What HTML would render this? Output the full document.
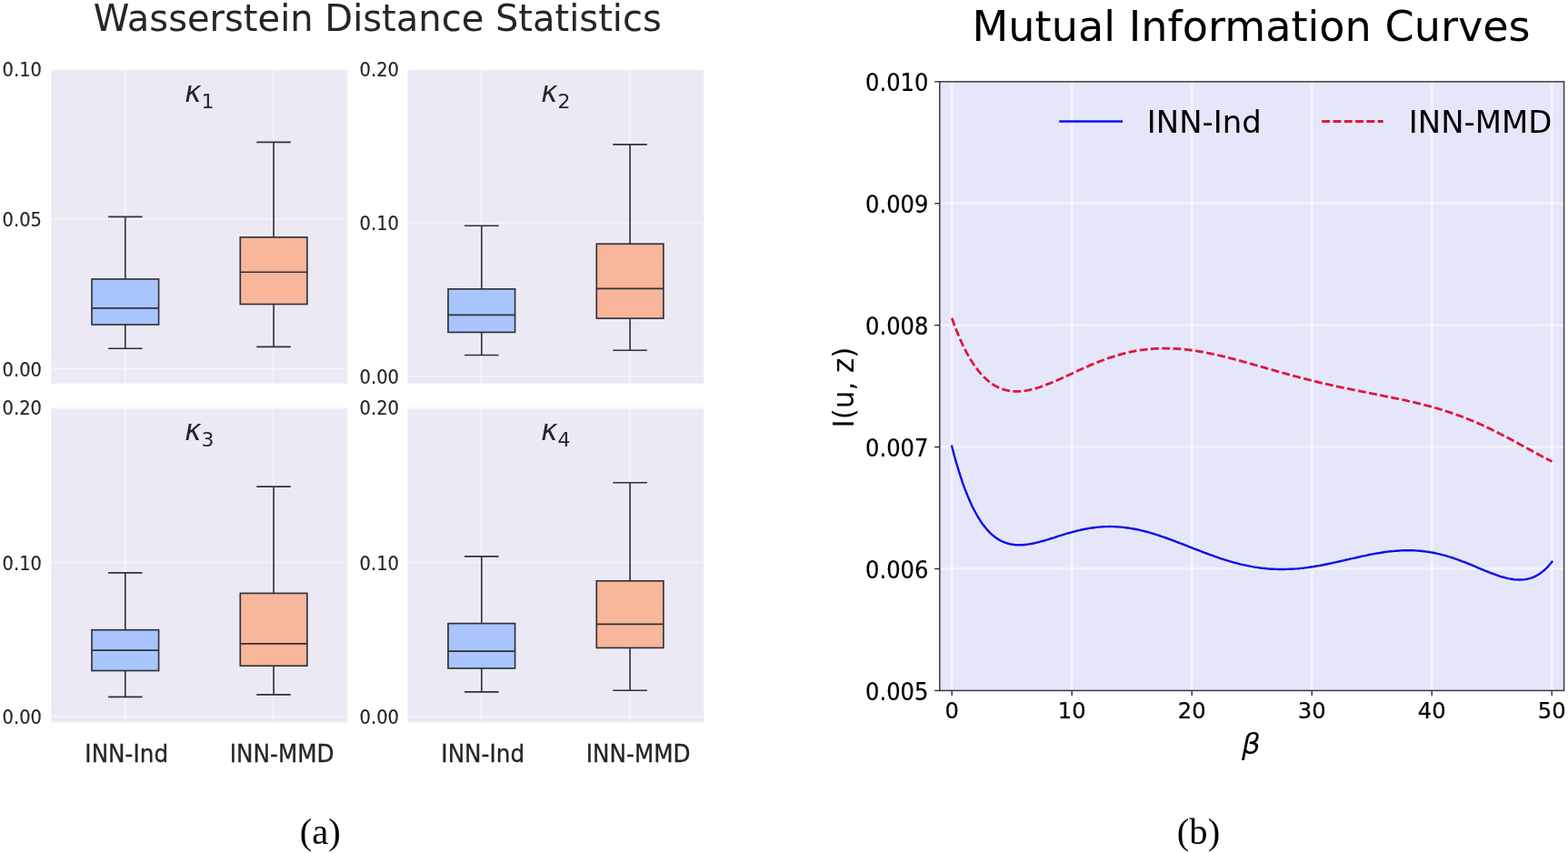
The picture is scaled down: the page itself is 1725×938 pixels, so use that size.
<!DOCTYPE html>
<html lang="en">
<head>
<meta charset="utf-8">
<title>Wasserstein Distance Statistics / Mutual Information Curves</title>
<style>
html, body { margin: 0; padding: 0; background: #fff; }
body { width: 1725px; height: 938px; overflow: hidden; }
svg { display: block; filter: blur(0.4px); font-family: "DejaVu Sans", "Liberation Sans", sans-serif; }
</style>
</head>
<body>
<svg width="1725" height="938" viewBox="0 0 1725 938">
<rect width="1725" height="938" fill="#fff"/>
<text x="415.3" y="33.5" font-size="40" text-anchor="middle" fill="#262626">Wasserstein Distance Statistics</text>
<rect x="56.3" y="76.3" width="326" height="345.5" fill="#ebeaf4"/>
<line x1="137.8" y1="76.3" x2="137.8" y2="421.8" stroke="#fff" stroke-width="2.2" opacity="0.42"/>
<line x1="300.8" y1="76.3" x2="300.8" y2="421.8" stroke="#fff" stroke-width="2.2" opacity="0.42"/>
<line x1="56.3" y1="76.9" x2="382.3" y2="76.9" stroke="#fff" stroke-width="2.2" opacity="0.42"/>
<line x1="56.3" y1="240.9" x2="382.3" y2="240.9" stroke="#fff" stroke-width="2.2" opacity="0.42"/>
<line x1="56.3" y1="405.5" x2="382.3" y2="405.5" stroke="#fff" stroke-width="2.2" opacity="0.42"/>
<text transform="translate(46 84) scale(0.975 1.060)" font-size="20" text-anchor="end" fill="#262626" stroke="#262626" stroke-width="0.15">0.10</text>
<text transform="translate(46 249) scale(0.975 1.060)" font-size="20" text-anchor="end" fill="#262626" stroke="#262626" stroke-width="0.15">0.05</text>
<text transform="translate(46 414) scale(0.975 1.060)" font-size="20" text-anchor="end" fill="#262626" stroke="#262626" stroke-width="0.15">0.00</text>
<text x="203.3" y="112.3" font-size="31" fill="#262626"><tspan font-style="italic">κ</tspan><tspan font-size="22" dy="6.8">1</tspan></text>
<g stroke="#30303a" stroke-width="1.65" fill="none">
<line x1="137.8" y1="238.3" x2="137.8" y2="306.9"/>
<line x1="137.8" y1="357" x2="137.8" y2="383.2"/>
<line x1="119.05" y1="238.3" x2="156.55" y2="238.3"/>
<line x1="119.05" y1="383.2" x2="156.55" y2="383.2"/>
<rect x="101" y="306.9" width="73.6" height="50.1" fill="#a8c5fd"/>
<line x1="101" y1="338.9" x2="174.6" y2="338.9"/>
</g>
<g stroke="#30303a" stroke-width="1.65" fill="none">
<line x1="301.1" y1="156.3" x2="301.1" y2="260.9"/>
<line x1="301.1" y1="334.5" x2="301.1" y2="381.3"/>
<line x1="282.35" y1="156.3" x2="319.85" y2="156.3"/>
<line x1="282.35" y1="381.3" x2="319.85" y2="381.3"/>
<rect x="264.3" y="260.9" width="73.6" height="73.6" fill="#f8b69a"/>
<line x1="264.3" y1="299.2" x2="337.9" y2="299.2"/>
</g>
<rect x="448.3" y="76.3" width="326" height="345.5" fill="#ebeaf4"/>
<line x1="529.8" y1="76.3" x2="529.8" y2="421.8" stroke="#fff" stroke-width="2.2" opacity="0.42"/>
<line x1="692.8" y1="76.3" x2="692.8" y2="421.8" stroke="#fff" stroke-width="2.2" opacity="0.42"/>
<line x1="448.3" y1="76.9" x2="774.3" y2="76.9" stroke="#fff" stroke-width="2.2" opacity="0.42"/>
<line x1="448.3" y1="245.2" x2="774.3" y2="245.2" stroke="#fff" stroke-width="2.2" opacity="0.42"/>
<line x1="448.3" y1="414.2" x2="774.3" y2="414.2" stroke="#fff" stroke-width="2.2" opacity="0.42"/>
<text transform="translate(439 84) scale(0.975 1.060)" font-size="20" text-anchor="end" fill="#262626" stroke="#262626" stroke-width="0.15">0.20</text>
<text transform="translate(439 253) scale(0.975 1.060)" font-size="20" text-anchor="end" fill="#262626" stroke="#262626" stroke-width="0.15">0.10</text>
<text transform="translate(439 422) scale(0.975 1.060)" font-size="20" text-anchor="end" fill="#262626" stroke="#262626" stroke-width="0.15">0.00</text>
<text x="595.3" y="112.3" font-size="31" fill="#262626"><tspan font-style="italic">κ</tspan><tspan font-size="22" dy="6.8">2</tspan></text>
<g stroke="#30303a" stroke-width="1.65" fill="none">
<line x1="529.8" y1="248.2" x2="529.8" y2="317.8"/>
<line x1="529.8" y1="365.4" x2="529.8" y2="390.5"/>
<line x1="511.05" y1="248.2" x2="548.55" y2="248.2"/>
<line x1="511.05" y1="390.5" x2="548.55" y2="390.5"/>
<rect x="493" y="317.8" width="73.6" height="47.6" fill="#a8c5fd"/>
<line x1="493" y1="346.4" x2="566.6" y2="346.4"/>
</g>
<g stroke="#30303a" stroke-width="1.65" fill="none">
<line x1="693.1" y1="158.8" x2="693.1" y2="268.2"/>
<line x1="693.1" y1="350.1" x2="693.1" y2="385.2"/>
<line x1="674.35" y1="158.8" x2="711.85" y2="158.8"/>
<line x1="674.35" y1="385.2" x2="711.85" y2="385.2"/>
<rect x="656.3" y="268.2" width="73.6" height="81.9" fill="#f8b69a"/>
<line x1="656.3" y1="317.3" x2="729.9" y2="317.3"/>
</g>
<rect x="56.3" y="448.2" width="326" height="346.1" fill="#ebeaf4"/>
<line x1="137.8" y1="448.2" x2="137.8" y2="794.3" stroke="#fff" stroke-width="2.2" opacity="0.42"/>
<line x1="300.8" y1="448.2" x2="300.8" y2="794.3" stroke="#fff" stroke-width="2.2" opacity="0.42"/>
<line x1="56.3" y1="448.8" x2="382.3" y2="448.8" stroke="#fff" stroke-width="2.2" opacity="0.42"/>
<line x1="56.3" y1="618.5" x2="382.3" y2="618.5" stroke="#fff" stroke-width="2.2" opacity="0.42"/>
<line x1="56.3" y1="788" x2="382.3" y2="788" stroke="#fff" stroke-width="2.2" opacity="0.42"/>
<text transform="translate(46 456) scale(0.975 1.060)" font-size="20" text-anchor="end" fill="#262626" stroke="#262626" stroke-width="0.15">0.20</text>
<text transform="translate(46 627) scale(0.975 1.060)" font-size="20" text-anchor="end" fill="#262626" stroke="#262626" stroke-width="0.15">0.10</text>
<text transform="translate(46 796) scale(0.975 1.060)" font-size="20" text-anchor="end" fill="#262626" stroke="#262626" stroke-width="0.15">0.00</text>
<text x="203.3" y="484.2" font-size="31" fill="#262626"><tspan font-style="italic">κ</tspan><tspan font-size="22" dy="6.8">3</tspan></text>
<g stroke="#30303a" stroke-width="1.65" fill="none">
<line x1="137.8" y1="629.8" x2="137.8" y2="692.7"/>
<line x1="137.8" y1="737.5" x2="137.8" y2="766.3"/>
<line x1="119.05" y1="629.8" x2="156.55" y2="629.8"/>
<line x1="119.05" y1="766.3" x2="156.55" y2="766.3"/>
<rect x="101" y="692.7" width="73.6" height="44.8" fill="#a8c5fd"/>
<line x1="101" y1="715.1" x2="174.6" y2="715.1"/>
</g>
<g stroke="#30303a" stroke-width="1.65" fill="none">
<line x1="301.1" y1="535.1" x2="301.1" y2="652.4"/>
<line x1="301.1" y1="732.2" x2="301.1" y2="763.8"/>
<line x1="282.35" y1="535.1" x2="319.85" y2="535.1"/>
<line x1="282.35" y1="763.8" x2="319.85" y2="763.8"/>
<rect x="264.3" y="652.4" width="73.6" height="79.8" fill="#f8b69a"/>
<line x1="264.3" y1="707.8" x2="337.9" y2="707.8"/>
</g>
<rect x="448.3" y="448.2" width="326" height="346.1" fill="#ebeaf4"/>
<line x1="529.8" y1="448.2" x2="529.8" y2="794.3" stroke="#fff" stroke-width="2.2" opacity="0.42"/>
<line x1="692.8" y1="448.2" x2="692.8" y2="794.3" stroke="#fff" stroke-width="2.2" opacity="0.42"/>
<line x1="448.3" y1="448.8" x2="774.3" y2="448.8" stroke="#fff" stroke-width="2.2" opacity="0.42"/>
<line x1="448.3" y1="618.5" x2="774.3" y2="618.5" stroke="#fff" stroke-width="2.2" opacity="0.42"/>
<line x1="448.3" y1="788" x2="774.3" y2="788" stroke="#fff" stroke-width="2.2" opacity="0.42"/>
<text transform="translate(439 456) scale(0.975 1.060)" font-size="20" text-anchor="end" fill="#262626" stroke="#262626" stroke-width="0.15">0.20</text>
<text transform="translate(439 627) scale(0.975 1.060)" font-size="20" text-anchor="end" fill="#262626" stroke="#262626" stroke-width="0.15">0.10</text>
<text transform="translate(439 796) scale(0.975 1.060)" font-size="20" text-anchor="end" fill="#262626" stroke="#262626" stroke-width="0.15">0.00</text>
<text x="595.3" y="484.2" font-size="31" fill="#262626"><tspan font-style="italic">κ</tspan><tspan font-size="22" dy="6.8">4</tspan></text>
<g stroke="#30303a" stroke-width="1.65" fill="none">
<line x1="529.8" y1="611.8" x2="529.8" y2="685.6"/>
<line x1="529.8" y1="734.9" x2="529.8" y2="760.9"/>
<line x1="511.05" y1="611.8" x2="548.55" y2="611.8"/>
<line x1="511.05" y1="760.9" x2="548.55" y2="760.9"/>
<rect x="493" y="685.6" width="73.6" height="49.3" fill="#a8c5fd"/>
<line x1="493" y1="716.1" x2="566.6" y2="716.1"/>
</g>
<g stroke="#30303a" stroke-width="1.65" fill="none">
<line x1="693.1" y1="530.7" x2="693.1" y2="638.8"/>
<line x1="693.1" y1="712.4" x2="693.1" y2="759.2"/>
<line x1="674.35" y1="530.7" x2="711.85" y2="530.7"/>
<line x1="674.35" y1="759.2" x2="711.85" y2="759.2"/>
<rect x="656.3" y="638.8" width="73.6" height="73.6" fill="#f8b69a"/>
<line x1="656.3" y1="686.3" x2="729.9" y2="686.3"/>
</g>
<text transform="translate(139.2 837.6) scale(1.000 1.050)" font-size="24.7" text-anchor="middle" fill="#262626" stroke="#262626" stroke-width="0.3">INN-Ind</text>
<text transform="translate(310.2 837.6) scale(1.000 1.050)" font-size="24.7" text-anchor="middle" fill="#262626" stroke="#262626" stroke-width="0.3">INN-MMD</text>
<text transform="translate(531.2 837.6) scale(1.000 1.050)" font-size="24.7" text-anchor="middle" fill="#262626" stroke="#262626" stroke-width="0.3">INN-Ind</text>
<text transform="translate(702.2 837.6) scale(1.000 1.050)" font-size="24.7" text-anchor="middle" fill="#262626" stroke="#262626" stroke-width="0.3">INN-MMD</text>
<text x="1376.6" y="44.9" font-size="46.15" text-anchor="middle" fill="#000">Mutual Information Curves</text>
<rect x="1033.8" y="89.8" width="686.8" height="669.6" fill="#e6e6fa"/>
<line x1="1047.2" y1="89.8" x2="1047.2" y2="759.4" stroke="#fff" stroke-width="3" opacity="0.5"/>
<line x1="1179.2" y1="89.8" x2="1179.2" y2="759.4" stroke="#fff" stroke-width="3" opacity="0.5"/>
<line x1="1311.2" y1="89.8" x2="1311.2" y2="759.4" stroke="#fff" stroke-width="3" opacity="0.5"/>
<line x1="1443.2" y1="89.8" x2="1443.2" y2="759.4" stroke="#fff" stroke-width="3" opacity="0.5"/>
<line x1="1575.2" y1="89.8" x2="1575.2" y2="759.4" stroke="#fff" stroke-width="3" opacity="0.5"/>
<line x1="1707.2" y1="89.8" x2="1707.2" y2="759.4" stroke="#fff" stroke-width="3" opacity="0.5"/>
<line x1="1033.8" y1="625.48" x2="1720.6" y2="625.48" stroke="#fff" stroke-width="3" opacity="0.5"/>
<line x1="1033.8" y1="491.56" x2="1720.6" y2="491.56" stroke="#fff" stroke-width="3" opacity="0.5"/>
<line x1="1033.8" y1="357.64" x2="1720.6" y2="357.64" stroke="#fff" stroke-width="3" opacity="0.5"/>
<line x1="1033.8" y1="223.72" x2="1720.6" y2="223.72" stroke="#fff" stroke-width="3" opacity="0.5"/>
<path d="M1047.2 490.7 L1047.9 493.5 L1048.6 496.2 L1049.3 498.9 L1050.0 501.5 L1050.7 504.1 L1051.4 506.6 L1052.1 509.1 L1052.9 511.5 L1053.6 513.9 L1054.3 516.2 L1055.0 518.5 L1055.7 520.7 L1056.4 522.9 L1057.1 525.1 L1057.8 527.2 L1058.5 529.3 L1059.2 531.3 L1059.9 533.3 L1060.6 535.3 L1061.3 537.2 L1062.0 539.1 L1062.8 540.9 L1063.5 542.7 L1064.2 544.4 L1064.9 546.2 L1065.6 547.8 L1066.3 549.5 L1067.0 551.1 L1067.7 552.7 L1068.4 554.2 L1069.1 555.7 L1069.8 557.2 L1070.5 558.6 L1071.2 560.0 L1071.9 561.4 L1072.7 562.7 L1073.4 564.0 L1074.1 565.3 L1074.8 566.6 L1075.5 567.8 L1076.2 569.0 L1076.9 570.1 L1077.6 571.2 L1078.3 572.3 L1079.0 573.4 L1079.7 574.4 L1080.4 575.5 L1081.1 576.4 L1081.8 577.4 L1082.6 578.3 L1083.3 579.2 L1084.0 580.1 L1084.7 581.0 L1085.4 581.8 L1086.1 582.6 L1086.8 583.4 L1087.5 584.2 L1088.2 584.9 L1088.9 585.6 L1089.6 586.3 L1090.3 587.0 L1091.0 587.6 L1091.7 588.2 L1092.5 588.8 L1093.2 589.4 L1093.9 590.0 L1094.6 590.5 L1095.3 591.0 L1096.0 591.5 L1096.7 592.0 L1097.4 592.5 L1098.1 592.9 L1098.8 593.4 L1099.5 593.8 L1100.2 594.2 L1100.9 594.6 L1101.6 594.9 L1102.4 595.3 L1103.1 595.6 L1103.8 595.9 L1104.5 596.2 L1105.2 596.5 L1105.9 596.7 L1106.6 597.0 L1107.3 597.2 L1108.0 597.4 L1108.7 597.7 L1109.4 597.8 L1110.1 598.0 L1110.8 598.2 L1111.5 598.4 L1112.3 598.5 L1113.0 598.6 L1113.7 598.7 L1114.4 598.8 L1115.1 598.9 L1115.8 599.0 L1116.5 599.1 L1117.2 599.2 L1119.7 599.3 L1122.1 599.3 L1124.6 599.2 L1127.1 599.0 L1129.5 598.8 L1132.0 598.4 L1134.5 598.0 L1137.0 597.5 L1139.4 596.9 L1141.9 596.3 L1144.4 595.7 L1146.8 595.0 L1149.3 594.3 L1151.8 593.6 L1154.2 592.8 L1156.7 592.0 L1159.2 591.3 L1161.7 590.5 L1164.1 589.7 L1166.6 588.9 L1169.1 588.2 L1171.5 587.4 L1174.0 586.7 L1176.5 586.0 L1178.9 585.3 L1181.4 584.6 L1183.9 584.0 L1186.3 583.4 L1188.8 582.8 L1191.3 582.3 L1193.8 581.8 L1196.2 581.3 L1198.7 580.9 L1201.2 580.5 L1203.6 580.2 L1206.1 579.9 L1208.6 579.6 L1211.0 579.4 L1213.5 579.2 L1216.0 579.1 L1218.4 579.1 L1220.9 579.0 L1223.4 579.1 L1225.9 579.1 L1228.3 579.3 L1230.8 579.4 L1233.3 579.6 L1235.7 579.9 L1238.2 580.2 L1240.7 580.5 L1243.1 580.9 L1245.6 581.3 L1248.1 581.7 L1250.6 582.2 L1253.0 582.7 L1255.5 583.3 L1258.0 583.9 L1260.4 584.5 L1262.9 585.2 L1265.4 585.9 L1267.8 586.6 L1270.3 587.4 L1272.8 588.2 L1275.2 589.0 L1277.7 589.8 L1280.2 590.6 L1282.7 591.5 L1285.1 592.4 L1287.6 593.3 L1290.1 594.2 L1292.5 595.1 L1295.0 596.1 L1297.5 597.0 L1299.9 598.0 L1302.4 598.9 L1304.9 599.9 L1307.3 600.9 L1309.8 601.8 L1312.3 602.8 L1314.8 603.8 L1317.2 604.7 L1319.7 605.7 L1322.2 606.6 L1324.6 607.6 L1327.1 608.5 L1329.6 609.4 L1332.0 610.3 L1334.5 611.2 L1337.0 612.1 L1339.5 612.9 L1341.9 613.8 L1344.4 614.6 L1346.9 615.4 L1349.3 616.1 L1351.8 616.9 L1354.3 617.6 L1356.7 618.3 L1359.2 619.0 L1361.7 619.6 L1364.1 620.3 L1366.6 620.9 L1369.1 621.4 L1371.6 621.9 L1374.0 622.4 L1376.5 622.9 L1379.0 623.4 L1381.4 623.8 L1383.9 624.1 L1386.4 624.5 L1388.8 624.8 L1391.3 625.0 L1393.8 625.3 L1396.2 625.5 L1398.7 625.7 L1401.2 625.8 L1403.7 625.9 L1406.1 626.0 L1408.6 626.0 L1411.1 626.0 L1413.5 626.0 L1416.0 625.9 L1418.5 625.8 L1420.9 625.7 L1423.4 625.6 L1425.9 625.4 L1428.4 625.2 L1430.8 624.9 L1433.3 624.7 L1435.8 624.4 L1438.2 624.1 L1440.7 623.7 L1443.2 623.3 L1445.6 623.0 L1448.1 622.5 L1450.6 622.1 L1453.0 621.7 L1455.5 621.2 L1458.0 620.7 L1460.5 620.2 L1462.9 619.7 L1465.4 619.2 L1467.9 618.6 L1470.3 618.1 L1472.8 617.5 L1475.3 617.0 L1477.7 616.4 L1480.2 615.8 L1482.7 615.3 L1485.1 614.7 L1487.6 614.1 L1490.1 613.6 L1492.6 613.0 L1495.0 612.5 L1497.5 611.9 L1500.0 611.4 L1502.4 610.9 L1504.9 610.3 L1507.4 609.8 L1509.8 609.4 L1512.3 608.9 L1514.8 608.5 L1517.3 608.1 L1519.7 607.7 L1522.2 607.3 L1524.7 606.9 L1527.1 606.6 L1529.6 606.3 L1532.1 606.1 L1534.5 605.9 L1537.0 605.7 L1539.5 605.5 L1541.9 605.4 L1544.4 605.3 L1546.9 605.2 L1549.4 605.2 L1551.8 605.3 L1554.3 605.3 L1556.8 605.4 L1559.2 605.6 L1561.7 605.8 L1564.2 606.0 L1566.6 606.3 L1569.1 606.6 L1571.6 607.0 L1574.0 607.4 L1576.5 607.8 L1579.0 608.3 L1581.5 608.9 L1583.9 609.4 L1586.4 610.1 L1588.9 610.7 L1591.3 611.4 L1593.8 612.2 L1596.3 612.9 L1598.7 613.7 L1601.2 614.6 L1603.7 615.4 L1606.2 616.3 L1608.6 617.3 L1611.1 618.2 L1613.6 619.2 L1616.0 620.2 L1618.5 621.2 L1621.0 622.2 L1623.4 623.2 L1625.9 624.3 L1628.4 625.3 L1630.8 626.3 L1633.3 627.4 L1635.8 628.4 L1638.3 629.4 L1640.7 630.3 L1643.2 631.2 L1645.7 632.1 L1648.1 633.0 L1650.6 633.8 L1653.1 634.5 L1655.5 635.2 L1658.0 635.8 L1660.5 636.4 L1662.9 636.8 L1665.4 637.2 L1667.9 637.4 L1670.4 637.5 L1672.8 637.5 L1675.3 637.4 L1677.8 637.1 L1680.2 636.7 L1682.7 636.1 L1685.2 635.3 L1687.6 634.3 L1690.1 633.1 L1692.6 631.7 L1695.1 630.0 L1697.5 628.1 L1700.0 626.0 L1702.5 623.6 L1704.9 620.8 L1707.4 617.8" fill="none" stroke="#1010e8" stroke-width="2.4" stroke-linejoin="round" stroke-linecap="square"/>
<path d="M1047.2 349.8 L1047.9 351.8 L1048.6 353.8 L1049.3 355.7 L1050.0 357.6 L1050.7 359.4 L1051.4 361.3 L1052.1 363.1 L1052.9 364.8 L1053.6 366.6 L1054.3 368.3 L1055.0 370.0 L1055.7 371.6 L1056.4 373.2 L1057.1 374.8 L1057.8 376.3 L1058.5 377.9 L1059.2 379.4 L1059.9 380.8 L1060.6 382.3 L1061.3 383.7 L1062.0 385.1 L1062.8 386.4 L1063.5 387.8 L1064.2 389.1 L1064.9 390.4 L1065.6 391.6 L1066.3 392.8 L1067.0 394.0 L1067.7 395.2 L1068.4 396.4 L1069.1 397.5 L1069.8 398.6 L1070.5 399.7 L1071.2 400.8 L1071.9 401.8 L1072.7 402.8 L1073.4 403.8 L1074.1 404.7 L1074.8 405.7 L1075.5 406.6 L1076.2 407.5 L1076.9 408.4 L1077.6 409.2 L1078.3 410.1 L1079.0 410.9 L1079.7 411.7 L1080.4 412.5 L1081.1 413.2 L1081.8 414.0 L1082.6 414.7 L1083.3 415.4 L1084.0 416.0 L1084.7 416.7 L1085.4 417.3 L1086.1 418.0 L1086.8 418.6 L1087.5 419.1 L1088.2 419.7 L1088.9 420.3 L1089.6 420.8 L1090.3 421.3 L1091.0 421.8 L1091.7 422.3 L1092.5 422.8 L1093.2 423.2 L1093.9 423.6 L1094.6 424.1 L1095.3 424.5 L1096.0 424.8 L1096.7 425.2 L1097.4 425.6 L1098.1 425.9 L1098.8 426.3 L1099.5 426.6 L1100.2 426.9 L1100.9 427.2 L1101.6 427.4 L1102.4 427.7 L1103.1 427.9 L1103.8 428.2 L1104.5 428.4 L1105.2 428.6 L1105.9 428.8 L1106.6 429.0 L1107.3 429.2 L1108.0 429.3 L1108.7 429.5 L1109.4 429.6 L1110.1 429.7 L1110.8 429.8 L1111.5 429.9 L1112.3 430.0 L1113.0 430.1 L1113.7 430.2 L1114.4 430.3 L1115.1 430.3 L1115.8 430.3 L1116.5 430.4 L1117.2 430.4 L1119.7 430.4 L1122.1 430.3 L1124.6 430.1 L1127.1 429.8 L1129.5 429.4 L1132.0 428.9 L1134.5 428.4 L1137.0 427.8 L1139.4 427.1 L1141.9 426.3 L1144.4 425.5 L1146.8 424.7 L1149.3 423.8 L1151.8 422.8 L1154.2 421.9 L1156.7 420.8 L1159.2 419.8 L1161.7 418.7 L1164.1 417.7 L1166.6 416.6 L1169.1 415.4 L1171.5 414.3 L1174.0 413.2 L1176.5 412.0 L1178.9 410.9 L1181.4 409.7 L1183.9 408.6 L1186.3 407.5 L1188.8 406.3 L1191.3 405.2 L1193.8 404.1 L1196.2 403.1 L1198.7 402.0 L1201.2 400.9 L1203.6 399.9 L1206.1 398.9 L1208.6 397.9 L1211.0 397.0 L1213.5 396.0 L1216.0 395.1 L1218.4 394.2 L1220.9 393.4 L1223.4 392.6 L1225.9 391.8 L1228.3 391.0 L1230.8 390.3 L1233.3 389.6 L1235.7 388.9 L1238.2 388.3 L1240.7 387.7 L1243.1 387.2 L1245.6 386.7 L1248.1 386.2 L1250.6 385.7 L1253.0 385.3 L1255.5 384.9 L1258.0 384.6 L1260.4 384.3 L1262.9 384.0 L1265.4 383.8 L1267.8 383.6 L1270.3 383.4 L1272.8 383.3 L1275.2 383.2 L1277.7 383.1 L1280.2 383.1 L1282.7 383.1 L1285.1 383.1 L1287.6 383.2 L1290.1 383.2 L1292.5 383.4 L1295.0 383.5 L1297.5 383.7 L1299.9 383.9 L1302.4 384.1 L1304.9 384.4 L1307.3 384.7 L1309.8 385.0 L1312.3 385.3 L1314.8 385.7 L1317.2 386.1 L1319.7 386.5 L1322.2 386.9 L1324.6 387.4 L1327.1 387.8 L1329.6 388.3 L1332.0 388.8 L1334.5 389.4 L1337.0 389.9 L1339.5 390.5 L1341.9 391.0 L1344.4 391.6 L1346.9 392.2 L1349.3 392.8 L1351.8 393.4 L1354.3 394.1 L1356.7 394.7 L1359.2 395.4 L1361.7 396.0 L1364.1 396.7 L1366.6 397.4 L1369.1 398.1 L1371.6 398.7 L1374.0 399.4 L1376.5 400.1 L1379.0 400.8 L1381.4 401.5 L1383.9 402.2 L1386.4 402.9 L1388.8 403.7 L1391.3 404.4 L1393.8 405.1 L1396.2 405.8 L1398.7 406.5 L1401.2 407.2 L1403.7 407.9 L1406.1 408.6 L1408.6 409.3 L1411.1 410.0 L1413.5 410.7 L1416.0 411.3 L1418.5 412.0 L1420.9 412.7 L1423.4 413.4 L1425.9 414.0 L1428.4 414.7 L1430.8 415.3 L1433.3 416.0 L1435.8 416.6 L1438.2 417.2 L1440.7 417.9 L1443.2 418.5 L1445.6 419.1 L1448.1 419.7 L1450.6 420.3 L1453.0 420.9 L1455.5 421.5 L1458.0 422.0 L1460.5 422.6 L1462.9 423.2 L1465.4 423.7 L1467.9 424.3 L1470.3 424.8 L1472.8 425.3 L1475.3 425.9 L1477.7 426.4 L1480.2 426.9 L1482.7 427.4 L1485.1 427.9 L1487.6 428.4 L1490.1 428.9 L1492.6 429.4 L1495.0 429.9 L1497.5 430.4 L1500.0 430.9 L1502.4 431.4 L1504.9 431.9 L1507.4 432.4 L1509.8 432.9 L1512.3 433.3 L1514.8 433.8 L1517.3 434.3 L1519.7 434.8 L1522.2 435.3 L1524.7 435.8 L1527.1 436.3 L1529.6 436.8 L1532.1 437.3 L1534.5 437.8 L1537.0 438.3 L1539.5 438.8 L1541.9 439.3 L1544.4 439.9 L1546.9 440.4 L1549.4 441.0 L1551.8 441.5 L1554.3 442.1 L1556.8 442.7 L1559.2 443.3 L1561.7 443.9 L1564.2 444.5 L1566.6 445.1 L1569.1 445.8 L1571.6 446.4 L1574.0 447.1 L1576.5 447.8 L1579.0 448.5 L1581.5 449.2 L1583.9 450.0 L1586.4 450.7 L1588.9 451.5 L1591.3 452.3 L1593.8 453.1 L1596.3 453.9 L1598.7 454.8 L1601.2 455.6 L1603.7 456.5 L1606.2 457.4 L1608.6 458.3 L1611.1 459.3 L1613.6 460.3 L1616.0 461.2 L1618.5 462.2 L1621.0 463.3 L1623.4 464.3 L1625.9 465.4 L1628.4 466.5 L1630.8 467.6 L1633.3 468.7 L1635.8 469.9 L1638.3 471.0 L1640.7 472.2 L1643.2 473.4 L1645.7 474.7 L1648.1 475.9 L1650.6 477.2 L1653.1 478.4 L1655.5 479.7 L1658.0 481.0 L1660.5 482.3 L1662.9 483.6 L1665.4 485.0 L1667.9 486.3 L1670.4 487.7 L1672.8 489.0 L1675.3 490.4 L1677.8 491.7 L1680.2 493.1 L1682.7 494.4 L1685.2 495.8 L1687.6 497.2 L1690.1 498.5 L1692.6 499.8 L1695.1 501.1 L1697.5 502.5 L1700.0 503.7 L1702.5 505.0 L1704.9 506.3 L1707.4 507.5" fill="none" stroke="#dc1a3c" stroke-width="2.8" stroke-dasharray="8.9 3.4" stroke-linejoin="round"/>
<rect x="1033.8" y="89.8" width="686.8" height="669.6" fill="none" stroke="#3a3a44" stroke-width="1.5"/>
<line x1="1047.2" y1="759.4" x2="1047.2" y2="765" stroke="#222" stroke-width="1.3"/>
<text transform="translate(1047.2 790) scale(0.985 1.030)" font-size="24.6" text-anchor="middle" fill="#000" stroke="#000" stroke-width="0.2">0</text>
<line x1="1179.2" y1="759.4" x2="1179.2" y2="765" stroke="#222" stroke-width="1.3"/>
<text transform="translate(1179.2 790) scale(0.985 1.030)" font-size="24.6" text-anchor="middle" fill="#000" stroke="#000" stroke-width="0.2">10</text>
<line x1="1311.2" y1="759.4" x2="1311.2" y2="765" stroke="#222" stroke-width="1.3"/>
<text transform="translate(1311.2 790) scale(0.985 1.030)" font-size="24.6" text-anchor="middle" fill="#000" stroke="#000" stroke-width="0.2">20</text>
<line x1="1443.2" y1="759.4" x2="1443.2" y2="765" stroke="#222" stroke-width="1.3"/>
<text transform="translate(1443.2 790) scale(0.985 1.030)" font-size="24.6" text-anchor="middle" fill="#000" stroke="#000" stroke-width="0.2">30</text>
<line x1="1575.2" y1="759.4" x2="1575.2" y2="765" stroke="#222" stroke-width="1.3"/>
<text transform="translate(1575.2 790) scale(0.985 1.030)" font-size="24.6" text-anchor="middle" fill="#000" stroke="#000" stroke-width="0.2">40</text>
<line x1="1707.2" y1="759.4" x2="1707.2" y2="765" stroke="#222" stroke-width="1.3"/>
<text transform="translate(1707.2 790) scale(0.985 1.030)" font-size="24.6" text-anchor="middle" fill="#000" stroke="#000" stroke-width="0.2">50</text>
<line x1="1028.2" y1="759.4" x2="1033.8" y2="759.4" stroke="#222" stroke-width="1.3"/>
<text transform="translate(1021.4 769.8) scale(0.985 1.055)" font-size="24.6" text-anchor="end" fill="#000" stroke="#000" stroke-width="0.2">0.005</text>
<line x1="1028.2" y1="625.48" x2="1033.8" y2="625.48" stroke="#222" stroke-width="1.3"/>
<text transform="translate(1021.4 635.88) scale(0.985 1.055)" font-size="24.6" text-anchor="end" fill="#000" stroke="#000" stroke-width="0.2">0.006</text>
<line x1="1028.2" y1="491.56" x2="1033.8" y2="491.56" stroke="#222" stroke-width="1.3"/>
<text transform="translate(1021.4 501.96) scale(0.985 1.055)" font-size="24.6" text-anchor="end" fill="#000" stroke="#000" stroke-width="0.2">0.007</text>
<line x1="1028.2" y1="357.64" x2="1033.8" y2="357.64" stroke="#222" stroke-width="1.3"/>
<text transform="translate(1021.4 368.04) scale(0.985 1.055)" font-size="24.6" text-anchor="end" fill="#000" stroke="#000" stroke-width="0.2">0.008</text>
<line x1="1028.2" y1="223.72" x2="1033.8" y2="223.72" stroke="#222" stroke-width="1.3"/>
<text transform="translate(1021.4 234.12) scale(0.985 1.055)" font-size="24.6" text-anchor="end" fill="#000" stroke="#000" stroke-width="0.2">0.009</text>
<line x1="1028.2" y1="89.8" x2="1033.8" y2="89.8" stroke="#222" stroke-width="1.3"/>
<text transform="translate(1021.4 100.2) scale(0.985 1.055)" font-size="24.6" text-anchor="end" fill="#000" stroke="#000" stroke-width="0.2">0.010</text>
<line x1="1166.5" y1="133.5" x2="1233.9" y2="133.5" stroke="#1010e8" stroke-width="2.4" stroke-linecap="square"/>
<text x="1261.8" y="145.8" font-size="33.9" fill="#000">INN-Ind</text>
<line x1="1454.2" y1="133.5" x2="1521.7" y2="133.5" stroke="#dc1a3c" stroke-width="2.8" stroke-dasharray="8.9 3.4"/>
<text x="1549.8" y="145.8" font-size="33.9" fill="#000">INN-MMD</text>
<text x="1376.3" y="829" font-size="32.5" font-style="italic" text-anchor="middle" fill="#000">β</text>
<text transform="translate(938.7 426) rotate(-90) scale(1 1.05)" font-size="31" text-anchor="middle" fill="#000">I(u, z)</text>
<text x="352.2" y="928" font-size="40.6" text-anchor="middle" fill="#000" font-family="'Liberation Serif', serif">(a)</text>
<text x="1318.5" y="928" font-size="40.6" text-anchor="middle" fill="#000" font-family="'Liberation Serif', serif">(b)</text>
</svg>
</body>
</html>
